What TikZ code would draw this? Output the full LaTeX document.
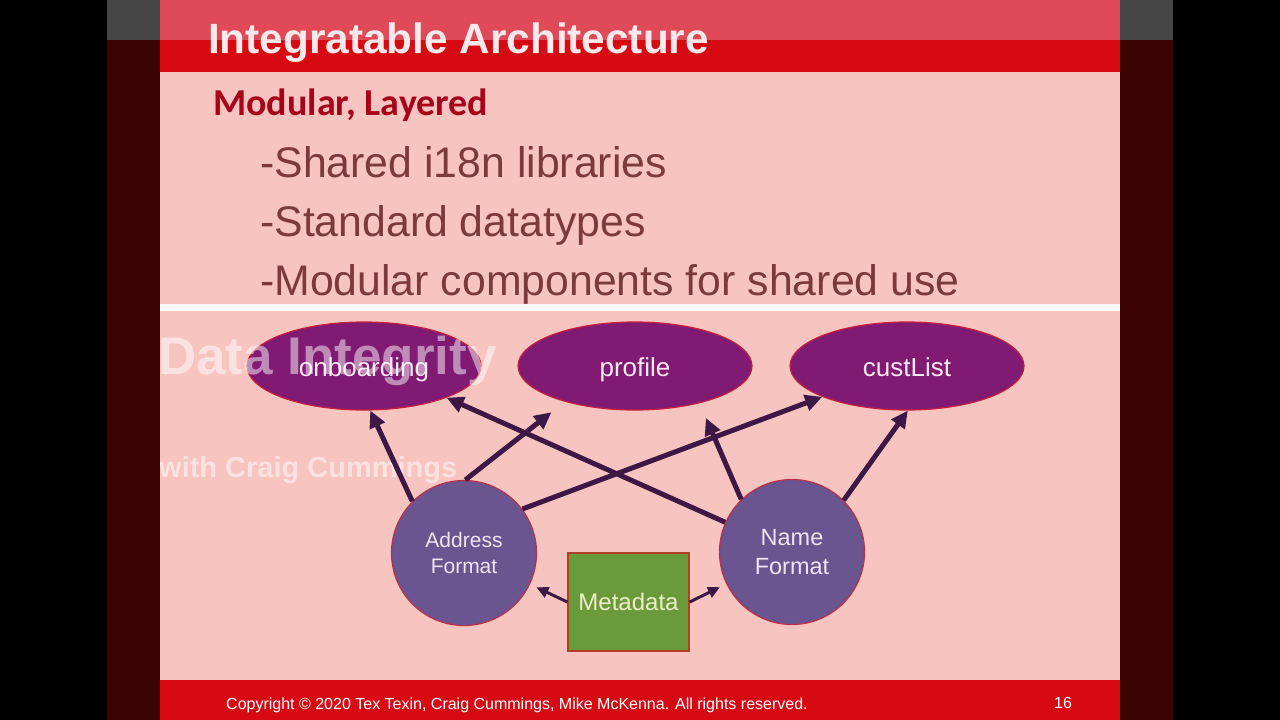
\documentclass[tikz,border=0pt]{standalone}
\usepackage{fontspec}
\setmainfont{Liberation Sans}
\newfontfamily\carlito{Carlito}
\usetikzlibrary{shapes.geometric,arrows.meta}
\definecolor{slidebg}{HTML}{F7C4BF}
\definecolor{topband}{HTML}{E04A58}
\definecolor{redbar}{HTML}{D70A14}
\definecolor{darkstrip}{HTML}{3A0200}
\definecolor{grayband}{HTML}{454545}
\definecolor{ellfill}{HTML}{801A73}
\definecolor{ellborder}{HTML}{C4203E}
\definecolor{elltext}{HTML}{FDE8F4}
\definecolor{circfill}{HTML}{6A5590}
\definecolor{circborder}{HTML}{B8304A}
\definecolor{circtext}{HTML}{F2E2F2}
\definecolor{metafill}{HTML}{6B9A3A}
\definecolor{metaborder}{HTML}{B0402A}
\definecolor{metatext}{HTML}{EEEECC}
\definecolor{arrcol}{HTML}{3D1745}
\definecolor{bullettext}{HTML}{7A3B3B}
\definecolor{subtitle}{HTML}{A8001A}
\definecolor{titletext}{HTML}{FDE8EA}
\tikzset{
  ell/.style={ellipse, draw=ellborder, line width=1.2pt, fill=ellfill, minimum width=234, minimum height=88, inner sep=0pt, text=elltext, text height=20pt, text depth=0pt, font=\fontsize{26}{30}\selectfont},
  circ/.style={circle, draw=circborder, line width=1.2pt, fill=circfill, minimum size=145, inner sep=0pt, text=circtext, align=center},
  metabox/.style={rectangle, draw=metaborder, line width=1.2pt, fill=metafill, minimum width=121, minimum height=98, inner sep=0pt, text=metatext, font=\fontsize{24}{28}\selectfont},
  arr/.style={draw=arrcol, line width=5pt, -{Triangle[length=17pt,width=16pt]}},
  arrs/.style={draw=arrcol, line width=3pt, -{Triangle[length=12pt,width=11pt]}},
  bullet/.style={anchor=base west, text=bullettext, inner sep=0pt, font=\fontsize{42.8}{48}\selectfont},
  ghost/.style={anchor=base west, text=white, text opacity=0.5, inner sep=0pt, font=\bfseries\fontsize{#1}{#1}\selectfont},
}
\begin{document}
\begin{tikzpicture}[x=1pt,y=-1pt]
\useasboundingbox (0,0) rectangle (1280,720);
% frame
\fill[black] (0,0) rectangle (1280,720);
\fill[darkstrip] (107,40) rectangle (160,720);
\fill[darkstrip] (1120,40) rectangle (1173,720);
\fill[grayband] (107,0) rectangle (160,40);
\fill[grayband] (1120,0) rectangle (1173,40);
% slide
\fill[slidebg] (160,72) rectangle (1120,680);
\fill[topband] (160,0) rectangle (1120,40);
\fill[redbar] (160,40) rectangle (1120,72);
\fill[redbar] (160,680) rectangle (1120,720);
\fill[white!97!slidebg] (160,304) rectangle (1120,311);
% texts
\node[anchor=base west, inner sep=0pt, text=titletext, font=\bfseries\fontsize{42.3}{46}\selectfont] (title) at (208,53) {Integratable Architecture};
\node[anchor=base west, inner sep=0pt, text=subtitle, font=\carlito\bfseries\fontsize{38}{40}\selectfont] (sub) at (213,115) {Modular, Layered};
\node[bullet] (b1) at (260,177) {-Shared i18n libraries};
\node[bullet] (b2) at (260,236) {-Standard datatypes};
\node[bullet] (b3) at (260,295) {-Modular components for shared use};
\node[anchor=base west, inner sep=0pt, text=white, font=\fontsize{16}{18}\selectfont] (copy) at (226,709) {Copyright \textcopyright{} 2020 Tex Texin, Craig Cummings, Mike McKenna. All rights reserved.};
\node[anchor=base west, inner sep=0pt, text=white, font=\fontsize{16}{18}\selectfont] (page) at (1054,708) {16};
% top layer nodes
\node[ell] (onb) at (364,366) {onboarding};
\node[ell] (prof) at (635,366) {profile};
\node[ell] (cust) at (907,366) {custList};
% ghost text of the transition
\begin{scope}
\clip (160,312) rectangle (1120,680);
\node[ghost=53] (g1) at (158,374) {Data Integrity};
\node[ghost=29] (g2) at (159,477) {with Craig Cummings};
\end{scope}
% lower nodes
\node[circ, font=\fontsize{21}{26}\selectfont] (addr) at (464,553) {Address\\Format};
\node[circ, font=\fontsize{23.5}{29}\selectfont] (name) at (792,552) {Name\\Format};
\node[metabox] (meta) at (628.5,602) {Metadata};
% arrows
\draw[arr] (addr.135) -- (onb.-82);
\draw[arr, shorten >=17pt] (addr.89) -- (prof.207);
\draw[arr] (addr.37) -- (cust.200);
\draw[arr] (name.156) -- (onb.-21);
\draw[arr, shorten >=16pt] (name.134) -- (prof.-30);
\draw[arr] (name.45) -- (cust.-89);
\draw[arrs, shorten >=7pt] (meta.west) -- (addr);
\draw[arrs, shorten >=7pt] (meta.east) -- (name);
\end{tikzpicture}
\end{document}
